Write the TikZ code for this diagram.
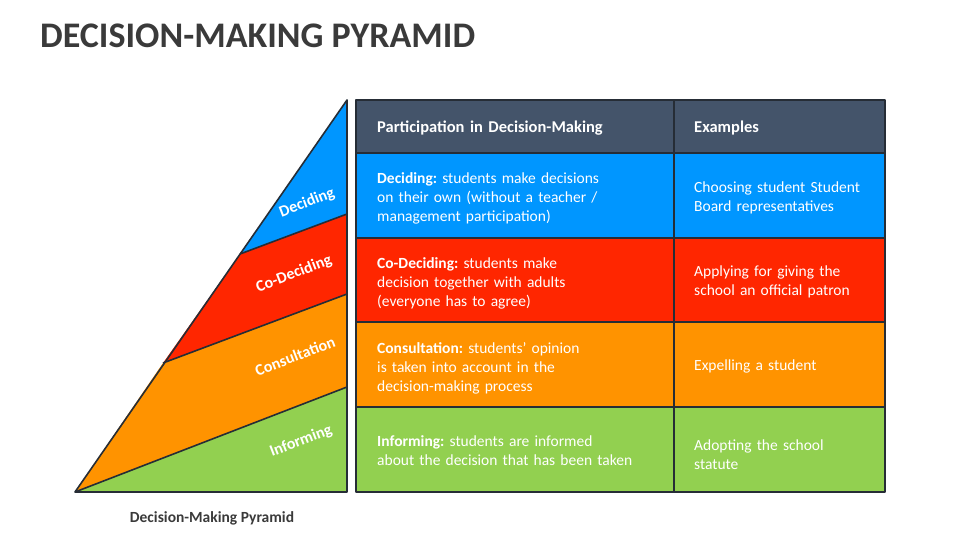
\documentclass[tikz,border=0pt]{standalone}
\usepackage{fontspec}
\setmainfont{Carlito}
\definecolor{hdr}{HTML}{44546A}
\definecolor{cblue}{HTML}{0096FF}
\definecolor{cred}{HTML}{FF2600}
\definecolor{corange}{HTML}{FF9300}
\definecolor{cgreen}{HTML}{92D050}
\definecolor{edge}{HTML}{262D36}
\definecolor{ttl}{HTML}{3A3A3A}
\begin{document}
\frenchspacing
\begin{tikzpicture}[x=1pt,y=-1pt,
  lay/.style={draw=edge,line width=1.6pt,line join=round},
  plab/.style={text=white,font=\fontsize{16}{18}\selectfont\bfseries,rotate=21},
  cell/.style={text=white,font=\fontsize{15.5}{19}\selectfont,align=left,anchor=west,text width=280pt}]
\useasboundingbox (0,0) rectangle (960,540);
\node[anchor=west,text=ttl,font=\fontsize{36}{38}\selectfont\bfseries,inner sep=0pt] (title) at (40,36) {DECISION-MAKING PYRAMID};
% pyramid
\coordinate (A) at (75,492); \coordinate (B) at (347,492); \coordinate (C) at (347,100);
\coordinate (g) at (347,387); \coordinate (o1) at (163,363); \coordinate (o2) at (347,294);
\coordinate (r1) at (240,254); \coordinate (r2) at (347,214);
\fill[cgreen] (A)--(B)--(g)--cycle;
\fill[corange] (A)--(g)--(o2)--(o1)--cycle;
\fill[cred] (o1)--(o2)--(r2)--(r1)--cycle;
\fill[cblue] (r1)--(r2)--(C)--cycle;
\draw[lay] (A)--(g) (o1)--(o2) (r1)--(r2);
\draw[lay] (A)--(B)--(C)--cycle;
\node[plab] (l1) at (307,203) {Deciding};
\node[plab] (l2) at (294,274) {Co-Deciding};
\node[plab] (l3) at (295,356) {Consultation};
\node[plab] (l4) at (301,441) {Informing};
\node[font=\fontsize{15.5}{17}\selectfont\bfseries,text=ttl] (cap) at (212,518) {Decision-Making Pyramid};
% table
\fill[hdr] (356,100) rectangle (885,153);
\fill[cblue] (356,153) rectangle (885,238);
\fill[cred] (356,238) rectangle (885,322);
\fill[corange] (356,322) rectangle (885,407);
\fill[cgreen] (356,407) rectangle (885,492);
\draw[lay] (356,100) rectangle (885,492);
\draw[lay] (674,100)--(674,492) (356,153)--(885,153) (356,238)--(885,238) (356,322)--(885,322) (356,407)--(885,407);
\node[cell,font=\fontsize{16.5}{18}\selectfont\bfseries,inner xsep=0pt] (h1) at (377,128) {Participation in Decision-Making};
\node[cell,font=\fontsize{16.5}{18}\selectfont\bfseries,inner xsep=0pt] (h2) at (694,128) {Examples};
\node[cell,inner xsep=0pt] (c1) at (377,198) {\textbf{Deciding:} students make decisions\\on their own (without a teacher /\\management participation)};
\node[cell,inner xsep=0pt] (e1) at (694,198) {Choosing student Student\\Board representatives};
\node[cell,inner xsep=0pt] (c2) at (377,283) {\textbf{Co-Deciding:} students make\\decision together with adults\\(everyone has to agree)};
\node[cell,inner xsep=0pt] (e2) at (694,282) {Applying for giving the\\school an official patron};
\node[cell,inner xsep=0pt] (c3) at (377,368) {\textbf{Consultation:} students’ opinion\\is taken into account in the\\decision-making process};
\node[cell,inner xsep=0pt] (e3) at (694,366) {Expelling a student};
\node[cell,inner xsep=0pt] (c4) at (377,451) {\textbf{Informing:} students are informed\\about the decision that has been taken};
\node[cell,inner xsep=0pt] (e4) at (694,455) {Adopting the school\\statute};
\end{tikzpicture}
\end{document}
